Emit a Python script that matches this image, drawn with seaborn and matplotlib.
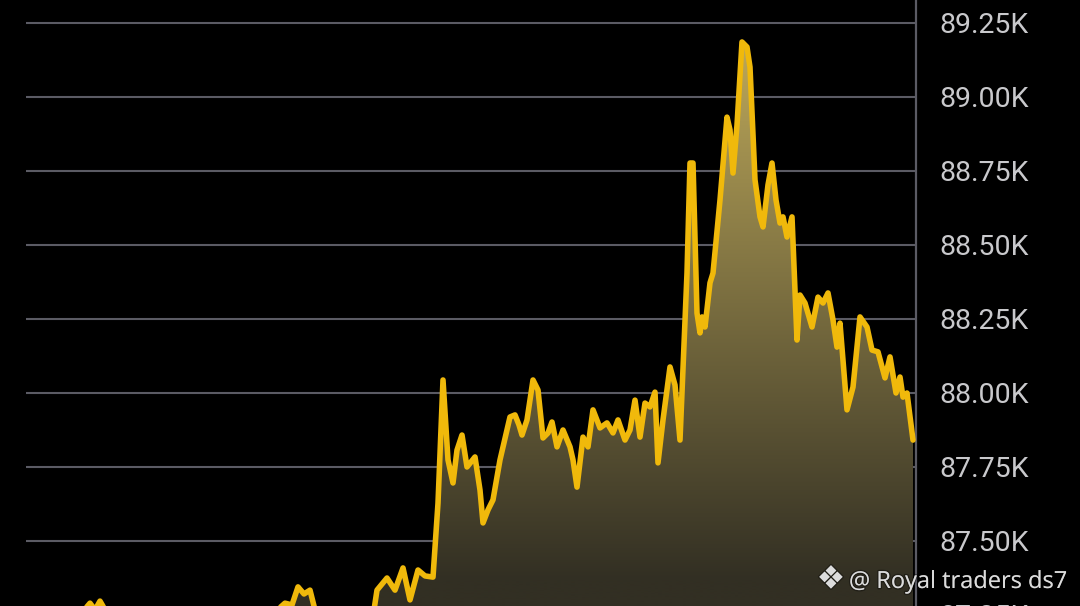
import numpy as np
import pandas as pd
import matplotlib
matplotlib.use("Agg")
import matplotlib.pyplot as plt
import matplotlib.patheffects as pe
import seaborn as sns

# price trace (minutes from the left edge, USD)
minutes = [0, 14, 29, 44, 54, 64, 69, 74, 82, 94, 114, 134, 154, 174, 194, 214,
           234, 249, 259, 266, 272, 278, 284, 289, 299, 314, 329, 342, 348, 351,
           361, 369, 377, 384, 392, 399, 407, 412, 417, 422, 427, 431, 436, 441,
           449, 454, 457, 462, 467, 474, 484, 489, 493, 496, 501, 507, 512, 517,
           522, 526, 531, 537, 544, 547, 551, 557, 562, 567, 574, 581, 587, 592,
           599, 604, 609, 614, 619, 624, 629, 632, 637, 644, 649, 654, 661, 664,
           667, 671, 674, 676, 679, 684, 687, 694, 701, 704, 707, 711, 716, 721,
           724, 729, 734, 737, 742, 746, 750, 754, 757, 761, 766, 771, 774, 779,
           786, 792, 797, 802, 807, 811, 814, 821, 827, 834, 841, 846, 852, 859,
           864, 870, 874, 877, 881, 887]
prices = [87166, 87199, 87182, 87226, 87250, 87290, 87267, 87297, 87250, 87216,
          87199, 87233, 87206, 87182, 87216, 87240, 87226, 87260, 87290, 87284,
          87345, 87321, 87334, 87267, 87216, 87199, 87226, 87250, 87267, 87334,
          87375, 87334, 87409, 87301, 87402, 87382, 87378, 87628, 88044, 87774,
          87696, 87807, 87858, 87750, 87784, 87672, 87561, 87605, 87639, 87774,
          87919, 87926, 87892, 87858, 87909, 88044, 88010, 87848, 87865, 87902,
          87818, 87875, 87818, 87774, 87682, 87851, 87818, 87943, 87882, 87899,
          87865, 87909, 87841, 87875, 87976, 87851, 87966, 87953, 88003, 87764,
          87909, 88088, 88027, 87841, 88405, 88777, 88777, 88270, 88203, 88257,
          88223, 88372, 88405, 88652, 88932, 88889, 88743, 88905, 89186, 89169,
          89101, 88720, 88595, 88561, 88703, 88777, 88652, 88574, 88595, 88527,
          88595, 88179, 88331, 88304, 88223, 88324, 88304, 88338, 88247, 88155,
          88236, 87943, 88020, 88257, 88223, 88145, 88139, 88051, 88122, 88000,
          88054, 87986, 88000, 87841]
tick_values = [87250, 87500, 87750, 88000, 88250, 88500, 88750, 89000, 89250]
watermark = "@ Royal traders ds7"

df = pd.DataFrame({"minute": minutes, "price": prices})

sns.set_style("dark")
plt.rcParams["font.family"] = ["Roboto", "DejaVu Sans"]

fig = plt.figure(figsize=(10.8, 6.06), dpi=100, facecolor="black")
# axes runs past the bottom edge of the picture (screenshot crop)
ax = fig.add_axes([26 / 1080, -83 / 606, 890 / 1080, 689 / 606])
ax.set_facecolor("black")

y_lo, y_hi = 87000, 89327.7

# gradient fill under the line
poly = ax.fill_between(df["minute"], df["price"], y_lo, facecolor="none", edgecolor="none")
rows = np.linspace(y_hi, y_lo, 400)
c_top = np.array([168, 150, 82]) / 255
c_bot = np.array([50, 47, 35]) / 255
frac = np.clip((rows - 87368) / (88922 - 87368), 0, 1.15)[:, None]
grad = np.clip(c_bot + (c_top - c_bot) * frac, 0, 1)
img = ax.imshow(grad[:, None, :], extent=[0, 890, y_lo, y_hi], aspect="auto",
                interpolation="bilinear", zorder=1)
img.set_clip_path(poly.get_paths()[0], transform=ax.transData)

sns.lineplot(data=df, x="minute", y="price", ax=ax, color="#F0B90B",
             linewidth=4.0, zorder=3, solid_capstyle="round", solid_joinstyle="round")

ax.set_xlim(0, 890)
ax.set_ylim(y_lo, y_hi)
ax.set_xlabel("")
ax.set_ylabel("")
ax.set_xticks([])
ax.set_yticks(tick_values)
ax.set_yticklabels([f"{v / 1000:.2f}K" for v in tick_values])
ax.yaxis.tick_right()
ax.tick_params(axis="y", length=0, pad=17, labelsize=20.5, labelcolor="#c9c9cc")
ax.grid(axis="y", color="#5b5b64", linewidth=1.5)
ax.grid(axis="x", visible=False)
for side in ["top", "left", "bottom"]:
    ax.spines[side].set_visible(False)
ax.spines["right"].set_color("#5b5b64")
ax.spines["right"].set_linewidth(1.6)

shadow = [pe.withStroke(linewidth=2, foreground=(0, 0, 0, 0.35))]
fig.text(831 / 1080, 1 - 580 / 606, "\u2756", ha="center", va="center",
         fontsize=23, color="#dcdcdc", family=["DejaVu Sans"], path_effects=shadow)
fig.text(849 / 1080, 1 - 588 / 606, watermark, ha="left", va="baseline",
         fontsize=17, color="#dcdcdc", family=["Open Sans", "DejaVu Sans"],
         path_effects=shadow)

fig.savefig("out.png", dpi=100, facecolor="black")
